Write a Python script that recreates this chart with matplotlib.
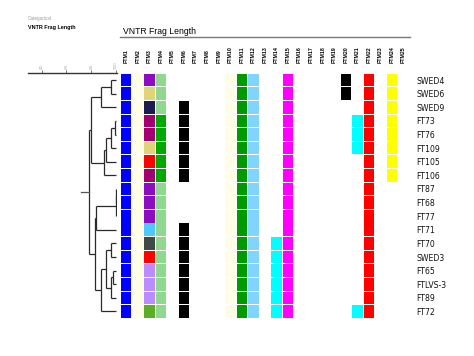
import matplotlib
matplotlib.use("Agg")
import matplotlib.pyplot as plt
from matplotlib.lines import Line2D

# strains, top to bottom
STRAINS = ["SWED4", "SWED6", "SWED9", "FT73", "FT76", "FT109", "FT105", "FT106",
           "FT87", "FT68", "FT77", "FT71", "FT70", "SWED3", "FT65", "FTLVS-3",
           "FT89", "FT72"]

MARKERS = ["FTM1", "FTM2", "FTM3", "FTM4", "FTM5", "FTM6", "FTM7", "FTM8", "FTM9",
           "FTM10", "FTM11", "FTM12", "FTM13", "FTM14", "FTM15", "FTM16", "FTM17",
           "FTM18", "FTM19", "FTM20", "FTM21", "FTM22", "FTM23", "FTM24", "FTM25"]

# allele colour per strain for each marker (None = no band)
FTM1 = ["blue"] * 18
FTM2 = ["cream"] * 18
FTM3 = ["purple", "khaki", "navy", "maroon", "maroon", "khaki", "red", "maroon",
        "purple", "purple", "purple", "lightblue", "darkgrey", "red",
        "lavender", "lavender", "lavender", "olive"]
FTM4 = ["palegreen"] * 3 + ["green"] * 5 + ["palegreen"] * 10
FTM6 = [None] * 2 + ["black"] * 6 + [None] * 3 + ["black"] * 7
FTM10 = ["cream"] * 18
FTM11 = ["darkgreen"] * 18
FTM12 = ["sky"] * 18
FTM14 = [None] * 12 + ["cyan"] * 6
FTM15 = ["magenta"] * 18
FTM20 = ["black"] * 2 + [None] * 16
FTM21 = [None] * 3 + ["cyan"] * 3 + [None] * 11 + ["cyan"]
FTM22 = ["red"] * 18
FTM24 = ["yellow"] * 8 + [None] * 10

PROFILES = {"FTM1": FTM1, "FTM2": FTM2, "FTM3": FTM3, "FTM4": FTM4, "FTM6": FTM6,
            "FTM10": FTM10, "FTM11": FTM11, "FTM12": FTM12, "FTM14": FTM14,
            "FTM15": FTM15, "FTM20": FTM20, "FTM21": FTM21, "FTM22": FTM22,
            "FTM24": FTM24}

PALETTE = {
    "blue": "#0000ff", "cream": "#fffde6", "purple": "#8c0cc2", "khaki": "#e0d47a",
    "navy": "#1c1c52", "maroon": "#a2006e", "red": "#ff0000", "lightblue": "#50c8ff",
    "darkgrey": "#3e4a48", "lavender": "#bb8cff", "olive": "#5cae28",
    "palegreen": "#90d890", "green": "#00a800", "darkgreen": "#009a00",
    "sky": "#80d4ff", "cyan": "#00ffff", "magenta": "#ff00ff", "black": "#000000",
    "yellow": "#ffff00",
}

# UPGMA-style merges: (child, child, similarity %); ints point to earlier merges
LINKS = [
    ("SWED4", "SWED6", 95.7),   # 0
    (0, "SWED9", 87.9),         # 1
    ("FT73", "FT76", 99.2),     # 2
    (2, "FT109", 95.7),         # 3
    (3, "FT105", 91.7),         # 4
    (4, "FT106", 89.9),         # 5
    (1, 5, 79.6),               # 6
    ("FT87", "FT68", 99.6),     # 7
    (7, "FT77", 99.6),          # 8
    (8, "FT71", 83.8),          # 9
    ("FT70", "SWED3", 95.7),    # 10
    ("FT65", "FTLVS-3", 97.6),  # 11
    (11, "FT89", 95.7),         # 12
    (10, 12, 91.9),             # 13
    (13, "FT72", 87.6),         # 14
    (9, 14, 83.0),              # 15
    (6, 15, 78.4),              # 16 root
]
ROOT_STUB = 71.7
SCALE_TICKS = [40, 60, 80, 100]

W, H = 474, 356
fig = plt.figure(figsize=(W / 100, H / 100), dpi=100)


def box(x0, y0, x1, y1):
    # pixel box (top-left origin) -> figure fraction rect
    return [x0 / W, 1 - y1 / H, (x1 - x0) / W, (y1 - y0) / H]


# ---- allele matrix ----
ax = fig.add_axes(box(120.5, 73.3, 409.3, 318.3))
for j, m in enumerate(MARKERS):
    col = PROFILES.get(m)
    if col is None:
        continue
    rows = [i for i, c in enumerate(col) if c]
    ax.bar([j] * len(rows), [0.93] * len(rows), bottom=[i - 0.465 for i in rows],
           width=0.9, color=[PALETTE[col[i]] for i in rows], linewidth=0)
ax.set_xlim(-0.5, len(MARKERS) - 0.5)
ax.set_ylim(len(STRAINS) - 0.5, -0.5)
for s in ax.spines.values():
    s.set_visible(False)
ax.xaxis.tick_top()
ax.set_xticks(range(len(MARKERS)))
ax.set_xticklabels(MARKERS, rotation=90, fontsize=3.8, fontweight="bold",
                   family="Liberation Sans")
ax.yaxis.tick_right()
ax.set_yticks(range(len(STRAINS)))
ax.set_yticklabels(STRAINS, fontsize=5.6, family="DejaVu Sans", color="#111111")
ax.tick_params(axis="x", length=0, pad=7.5)
ax.tick_params(axis="y", length=0, pad=5)

# ---- dendrogram ----
dax = fig.add_axes(box(28, 73.3, 117, 318.3))
ypos = {}
xpos = {}
for name in STRAINS:
    ypos[name] = STRAINS.index(name)
    xpos[name] = 100.0
lc = "#2a2a2a"
for k, (a, b, sim) in enumerate(LINKS):
    for c in (a, b):
        dax.plot([xpos[c], sim], [ypos[c], ypos[c]], color=lc, lw=0.9,
                 solid_capstyle="butt")
    dax.plot([sim, sim], [ypos[a], ypos[b]], color=lc, lw=0.9, solid_capstyle="butt")
    ypos[k] = (ypos[a] + ypos[b]) / 2
    xpos[k] = sim
root = len(LINKS) - 1
dax.plot([ROOT_STUB, xpos[root]], [ypos[root], ypos[root]], color="#555555", lw=0.9)

dax.set_xlim(28.9, 100.8)
dax.set_ylim(len(STRAINS) - 0.5, -0.5)
for side in ("left", "right", "bottom"):
    dax.spines[side].set_visible(False)
dax.spines["top"].set_color("#333333")
dax.spines["top"].set_linewidth(1.0)
dax.xaxis.tick_top()
dax.set_xticks(SCALE_TICKS)
dax.set_xticklabels([str(t) for t in SCALE_TICKS], rotation=90, fontsize=3,
                    color="#aaaaaa")
dax.tick_params(axis="x", direction="out", length=2, width=0.6, color="#666666", pad=1)
dax.set_yticks([])

# ---- header texts ----
fig.text(28 / W, 1 - 20 / H, "Categorical", fontsize=3.3, color="#999999",
         family="Liberation Sans", va="baseline")
fig.text(28 / W, 1 - 29 / H, "VNTR Frag Length", fontsize=3.9, fontweight="bold",
         family="Liberation Sans", va="baseline")
fig.text(123 / W, 1 - 33.5 / H, "VNTR Frag Length", fontsize=6.2,
         family="Liberation Sans", va="baseline")
fig.add_artist(Line2D([120 / W, 410 / W], [1 - 36.5 / H, 1 - 36.5 / H],
                      transform=fig.transFigure, color="#777777", lw=1.0))

fig.savefig("out.png", dpi=100)
